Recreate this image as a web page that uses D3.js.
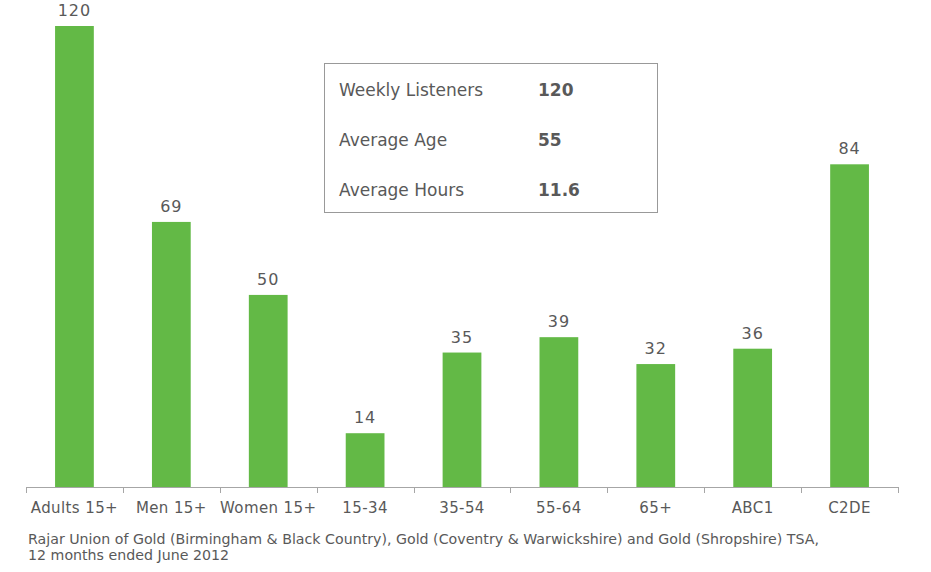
<!DOCTYPE html>
<html><head><meta charset="utf-8">
<script src="https://cdn.jsdelivr.net/npm/d3@7"></script>
<style>body{margin:0;background:#fff}svg{display:block}text{font-family:"DejaVu Sans",Verdana,sans-serif}</style>
</head><body>
<svg id="c" width="931" height="572"></svg>
<script>
const categories = ["Adults 15+","Men 15+","Women 15+","15-34","35-54","55-64","65+","ABC1","C2DE"];
const values = [120,69,50,14,35,39,32,36,84];
const infoLabels = ["Weekly Listeners","Average Age","Average Hours"];
const infoValues = ["120","55","11.6"];
const footnote = ["Rajar Union of Gold (Birmingham & Black Country), Gold (Coventry & Warwickshire) and Gold (Shropshire) TSA,","12 months ended June 2012"];

const svg = d3.select("#c");
const textCol = "#595959";
const x = d3.scaleBand().domain(categories).range([26,898]).paddingInner(0.6).paddingOuter(0.3);
const y = d3.scaleLinear().domain([0,120]).range([487,26]);

svg.selectAll("rect.bar").data(values).join("rect").attr("class","bar")
  .attr("x",(d,i)=>x(categories[i])).attr("width",x.bandwidth())
  .attr("y",d=>y(d)).attr("height",d=>y(0)-y(d)).attr("fill","#63b946");

svg.selectAll("text.val").data(values).join("text").attr("class","val")
  .attr("x",(d,i)=>x(categories[i])+x.bandwidth()/2).attr("y",d=>y(d)-10)
  .attr("text-anchor","middle").attr("font-size",16).attr("letter-spacing",1).attr("fill",textCol).text(d=>d);

// axis
const g = svg.append("g");
g.append("line").attr("x1",26).attr("x2",898).attr("y1",487.5).attr("y2",487.5).attr("stroke","#a6a6a6");
const ticks = d3.range(categories.length+1).map(i=>26+i*(898-26)/categories.length);
g.selectAll("line.t").data(ticks).join("line").attr("class","t")
  .attr("x1",d=>Math.round(d)+0.5).attr("x2",d=>Math.round(d)+0.5).attr("y1",487).attr("y2",493).attr("stroke","#a6a6a6");
g.selectAll("text.cat").data(categories).join("text").attr("class","cat")
  .attr("x",d=>x(d)+x.bandwidth()/2).attr("y",512.5).attr("text-anchor","middle")
  .attr("font-size",15).attr("letter-spacing",0.4).attr("fill",textCol).text(d=>d);

// info box
svg.append("rect").attr("x",324.5).attr("y",63.5).attr("width",333).attr("height",149)
  .attr("fill","#fff").attr("stroke","#999");
infoLabels.forEach((l,i)=>{
  svg.append("text").attr("x",339).attr("y",95.5+i*50).attr("font-size",17).attr("fill",textCol).text(l);
  svg.append("text").attr("x",538).attr("y",95.5+i*50).attr("font-size",17).attr("font-weight","bold").attr("fill",textCol).text(infoValues[i]);
});

footnote.forEach((t,i)=>{
  svg.append("text").attr("x",28).attr("y",544+i*16).attr("font-size",14.2).attr("fill",textCol).text(t);
});
</script>
</body></html>
